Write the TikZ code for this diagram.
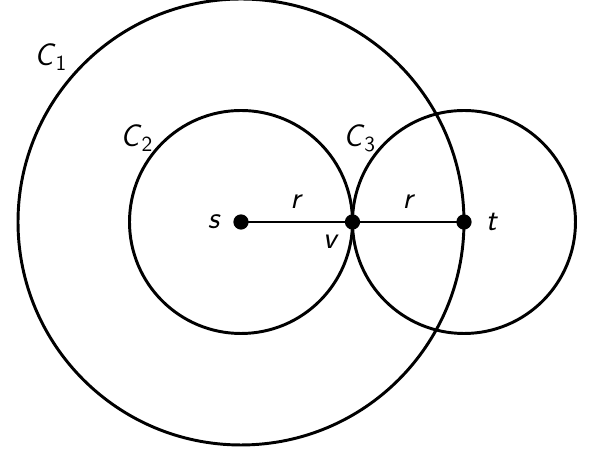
\documentclass[tikz,border=0pt]{standalone}
\usepackage{amssymb,mathtools}
\usepackage{tikz}

\newcommand{\lbl}[2]{\textsf{\itshape #1}\ifx&#2&\else$_{\mathsf{#2}}$\fi}

\begin{document}
\begin{tikzpicture}[line width=1.5pt,font=\fontsize{16}{19}\selectfont]
  \useasboundingbox (-4.323,-4.323) rectangle (6.404,3.982);
  \coordinate (s) at (0,0);
  \coordinate (v) at (2,0);
  \coordinate (t) at (4,0);
  \draw (s) circle[radius=4];
  \draw (s) circle[radius=2];
  \draw (t) circle[radius=2];
  \draw (s) -- (v) -- (t);
  \draw[fill] (s) circle[radius=0.11];
  \draw[fill] (v) circle[radius=0.11];
  \draw[fill] (t) circle[radius=0.11];
  \node (ls) at (-0.48,0) {\lbl{s}{}};
  \node (lv) at (1.61,-0.36) {\lbl{v}{}};
  \node (lt) at (4.5,0) {\lbl{t}{}};
  \node (lr1) at (1.0,0.36) {\lbl{r}{}};
  \node (lr2) at (3.01,0.36) {\lbl{r}{}};
  \node (lc1) at (-3.41,2.95) {\lbl{C}{1}};
  \node (lc2) at (-1.87,1.5) {\lbl{C}{2}};
  \node (lc3) at (2.13,1.5) {\lbl{C}{3}};
\end{tikzpicture}
\end{document}
